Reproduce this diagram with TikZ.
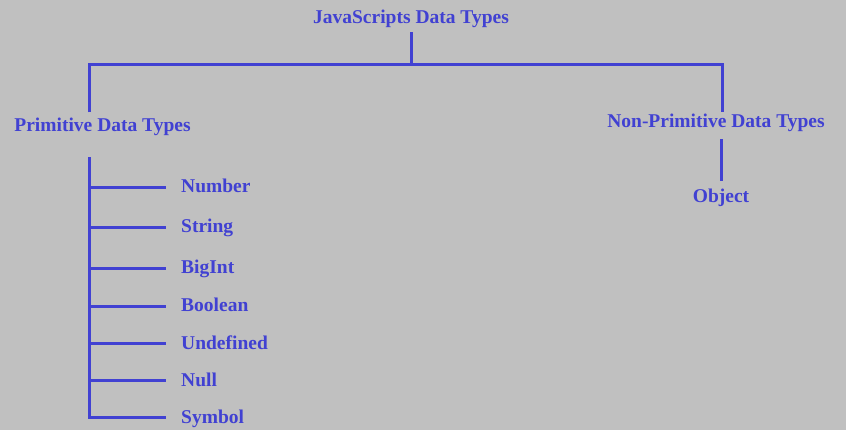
\documentclass[tikz,border=0pt]{standalone}
\usepackage{fontspec}
\setmainfont{Liberation Serif}
\usetikzlibrary{calc}
\definecolor{jsblue}{RGB}{65,65,210}
\definecolor{panelgray}{RGB}{192,192,192}
\tikzset{
    typelabel/.style={font=\bfseries\fontsize{19.5}{23}\selectfont, text=jsblue, inner sep=0pt},
    link/.style={draw=jsblue, line width=3pt}
}
\begin{document}
\begin{tikzpicture}[x=1pt,y=-1pt]
    % Background
    \fill[panelgray] (0,0) rectangle (846,430);
    \useasboundingbox (0,0) rectangle (846,430);

    % Headings
    \node[typelabel, anchor=base] (root) at (411,24) {JavaScripts Data Types};
    \node[typelabel, anchor=base] (prim) at (102.5,132) {Primitive Data Types};
    \node[typelabel, anchor=base] (nonprim) at (716,128) {Non-Primitive Data Types};
    \node[typelabel, anchor=base] (obj) at (721,203) {Object};

    % Junctions
    \coordinate (barL) at (89,65);
    \coordinate (barR) at (722.5,65);

    % Top connectors
    \draw[link] ($(root.south)+(0,4)$) -- (root.south |- barL);
    \draw[link] ($(barL |- prim.north)+(0,-6)$) -- (barL) -- (barR) -- ($(barR |- nonprim.north)+(0,-2)$);
    \draw[link] ($(obj.north |- nonprim.south)+(0,7)$) -- ($(obj.north)+(0,-8)$);

    % Primitive members
    \foreach \t/\y/\n in {Number/193/num, String/233/str, BigInt/274/big, Boolean/312/bool,
                          Undefined/349/undef, Null/386/null, Symbol/423/sym} {
        \node[typelabel, anchor=base west] (\n) at (181,\y) {\t};
        \draw[link] ($(barL |- \n.base west)+(0,-5.5)$) -- ($(\n.base west)+(-15,-5.5)$);
    }
    \draw[link] ($(barL |- prim.south)+(0,21)$) -- ($(barL |- sym.base west)+(0,-4)$);
\end{tikzpicture}
\end{document}
